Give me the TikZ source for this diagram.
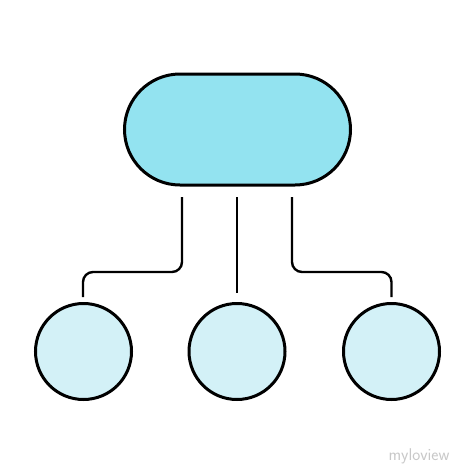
\documentclass[tikz,border=0pt]{standalone}
\usetikzlibrary{shapes.misc}
\definecolor{pillfill}{HTML}{93E3F0}
\definecolor{circfill}{HTML}{D3F1F7}
\definecolor{wmark}{HTML}{C8C8C8}
\begin{document}
\begin{tikzpicture}[x=1pt,y=-1pt,
  pill/.style={rounded rectangle, draw=black, line width=3pt, fill=pillfill,
    minimum width=226pt, minimum height=111pt, inner sep=0pt},
  leaf/.style={circle, draw=black, line width=3pt, fill=circfill,
    minimum size=96pt, inner sep=0pt},
  link/.style={draw=black, line width=2.4pt, rounded corners=10pt}]
\useasboundingbox[fill=white] (0,0) rectangle (474,474);
\node[pill] (top) at (237.5,129.5) {};
\node[leaf] (c1) at (83.5,351.5) {};
\node[leaf] (c2) at (237,351.5) {};
\node[leaf] (c3) at (391.5,351.5) {};
\coordinate (s1) at (182,197);
\coordinate (s2) at (237,197);
\coordinate (s3) at (292,197);
\coordinate (e1) at (83,297);
\coordinate (e2) at (237,293);
\coordinate (e3) at (391.5,297);
\draw[link] (s1) -- (182,272) -- (83,272) -- (e1);
\draw[link] (s2) -- (e2);
\draw[link] (s3) -- (292,272) -- (391.5,272) -- (e3);
\node[text=wmark, font=\sffamily\fontsize{17}{17}\selectfont, inner sep=0pt, anchor=center] (wm) at (419,456) {myloview};
\end{tikzpicture}
\end{document}
